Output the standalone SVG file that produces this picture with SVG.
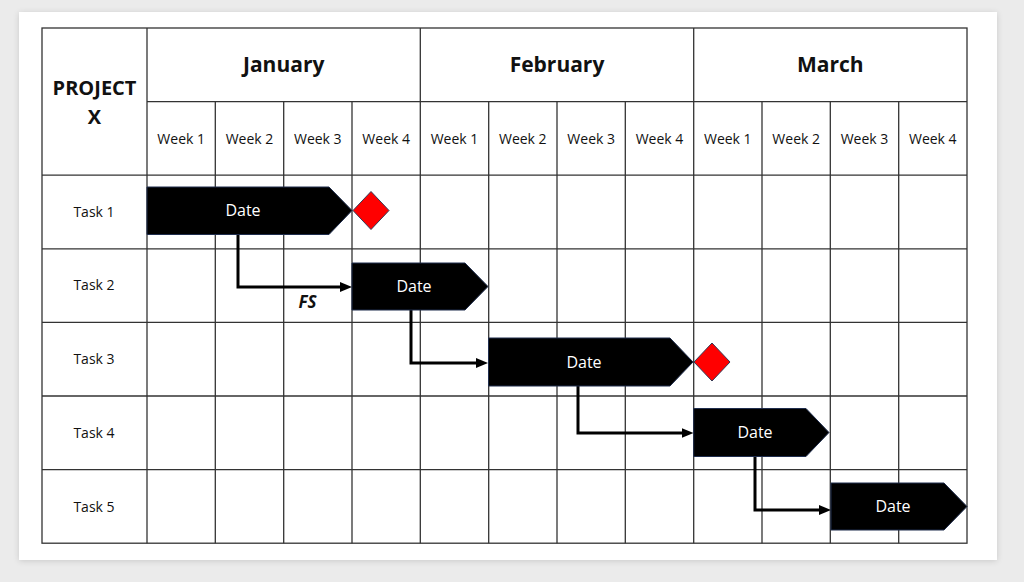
<svg xmlns="http://www.w3.org/2000/svg" width="1024" height="582" viewBox="0 0 1024 582">
  <style>
    .grid line { stroke: #333333; stroke-width: 1.3; }
    .cell { fill: none; stroke: #333333; stroke-width: 1.3; }
    .month { font-family: "Open Sans", "Liberation Sans", sans-serif; font-weight: 700; font-size: 21px; fill: #111111; text-anchor: middle; }
    .proj { font-family: "Open Sans", "Liberation Sans", sans-serif; font-weight: 700; font-size: 20px; fill: #111111; text-anchor: middle; }
    .week { font-family: "Open Sans", "Liberation Sans", sans-serif; font-size: 14px; fill: #111111; text-anchor: middle; }
    .task { font-family: "Open Sans", "Liberation Sans", sans-serif; font-size: 14px; fill: #111111; text-anchor: middle; }
    .bar { fill: #000000; stroke: #1f2d4d; stroke-width: 1; }
    .date { font-family: "Open Sans", "Liberation Sans", sans-serif; font-size: 16px; fill: #ffffff; text-anchor: middle; }
    .ms { fill: #ff0000; stroke: #333a55; stroke-width: 1; }
    .conn path { fill: none; stroke: #000000; stroke-width: 3; marker-end: url(#arr); }
    .fs { font-family: "Open Sans", "Liberation Sans", sans-serif; font-size: 17px; font-weight: 700; font-style: italic; fill: #111111; text-anchor: middle; }
  </style>
  <defs>
    <marker id="arr" markerUnits="userSpaceOnUse" markerWidth="12" markerHeight="10" refX="6" refY="5" orient="auto">
      <path d="M0,0 L12,5 L0,10 z" fill="#000000"/>
    </marker>
    <filter id="shadow" x="-5%" y="-5%" width="110%" height="110%">
      <feGaussianBlur in="SourceAlpha" stdDeviation="3"/>
      <feOffset dx="0" dy="1" result="b"/>
      <feComponentTransfer><feFuncA type="linear" slope="0.15"/></feComponentTransfer>
      <feMerge><feMergeNode/><feMergeNode in="SourceGraphic"/></feMerge>
    </filter>
  </defs>

  <rect x="0" y="0" width="1024" height="582" fill="#ebebeb"/>
  <rect x="19" y="12" width="978" height="548" fill="#ffffff" filter="url(#shadow)"/>

  <g id="table" class="grid">
    <rect class="cell" x="42" y="28" width="925" height="515.2"/>
    <line x1="147" y1="101.6" x2="967" y2="101.6"/>
    <line x1="42" y1="175.2" x2="967" y2="175.2"/>
    <line x1="42" y1="248.8" x2="967" y2="248.8"/>
    <line x1="42" y1="322.4" x2="967" y2="322.4"/>
    <line x1="42" y1="396" x2="967" y2="396"/>
    <line x1="42" y1="469.6" x2="967" y2="469.6"/>
    <line x1="147" y1="28" x2="147" y2="543.2"/>
    <line x1="420.3" y1="28" x2="420.3" y2="543.2"/>
    <line x1="693.7" y1="28" x2="693.7" y2="543.2"/>
    <line x1="215.3" y1="101.6" x2="215.3" y2="543.2"/>
    <line x1="283.7" y1="101.6" x2="283.7" y2="543.2"/>
    <line x1="352" y1="101.6" x2="352" y2="543.2"/>
    <line x1="488.7" y1="101.6" x2="488.7" y2="543.2"/>
    <line x1="557" y1="101.6" x2="557" y2="543.2"/>
    <line x1="625.3" y1="101.6" x2="625.3" y2="543.2"/>
    <line x1="762" y1="101.6" x2="762" y2="543.2"/>
    <line x1="830.3" y1="101.6" x2="830.3" y2="543.2"/>
    <line x1="898.7" y1="101.6" x2="898.7" y2="543.2"/>
  </g>

  <g id="header">
    <text class="proj" x="94.5" y="95">PROJECT</text>
    <text class="proj" x="94.5" y="124">X</text>
    <text class="month" x="283.7" y="72">January</text>
    <text class="month" x="557" y="72">February</text>
    <text class="month" x="830.3" y="72">March</text>
    <text class="week" x="181.2" y="144">Week 1</text>
    <text class="week" x="249.5" y="144">Week 2</text>
    <text class="week" x="317.8" y="144">Week 3</text>
    <text class="week" x="386.2" y="144">Week 4</text>
    <text class="week" x="454.5" y="144">Week 1</text>
    <text class="week" x="522.8" y="144">Week 2</text>
    <text class="week" x="591.2" y="144">Week 3</text>
    <text class="week" x="659.5" y="144">Week 4</text>
    <text class="week" x="727.8" y="144">Week 1</text>
    <text class="week" x="796.2" y="144">Week 2</text>
    <text class="week" x="864.5" y="144">Week 3</text>
    <text class="week" x="932.8" y="144">Week 4</text>
  </g>

  <g id="task-labels">
    <text class="task" x="94" y="216.5">Task 1</text>
    <text class="task" x="94" y="290">Task 2</text>
    <text class="task" x="94" y="364">Task 3</text>
    <text class="task" x="94" y="438">Task 4</text>
    <text class="task" x="94" y="511.5">Task 5</text>
  </g>

  <g id="connectors" class="conn">
    <path d="M238,235 V287 H346"/>
    <path d="M411,310 V363 H482"/>
    <path d="M578,386 V433 H687.5"/>
    <path d="M755,456.5 V510 H825"/>
    <text class="fs" x="307.5" y="308">FS</text>
  </g>

  <g id="task1">
    <polygon class="bar" points="147,187 329,187 352,210.5 329,234.5 147,234.5"/>
    <text class="date" x="243" y="216">Date</text>
  </g>
  <g id="milestone1">
    <polygon class="ms" points="353,210.5 371,191.5 389,210.5 371,229.5"/>
  </g>
  <g id="task2">
    <polygon class="bar" points="352,263 465,263 488,286.5 465,310 352,310"/>
    <text class="date" x="414" y="292">Date</text>
  </g>
  <g id="task3">
    <polygon class="bar" points="488.5,338 670,338 693,362 670,386 488.5,386"/>
    <text class="date" x="584" y="368">Date</text>
  </g>
  <g id="milestone2">
    <polygon class="ms" points="694,362 712,343 730,362 712,381"/>
  </g>
  <g id="task4">
    <polygon class="bar" points="693.7,408.5 806,408.5 829,432.5 806,456.5 693.7,456.5"/>
    <text class="date" x="755" y="438">Date</text>
  </g>
  <g id="task5">
    <polygon class="bar" points="831,483 944,483 967,506.5 944,530 831,530"/>
    <text class="date" x="893" y="512">Date</text>
  </g>
</svg>
